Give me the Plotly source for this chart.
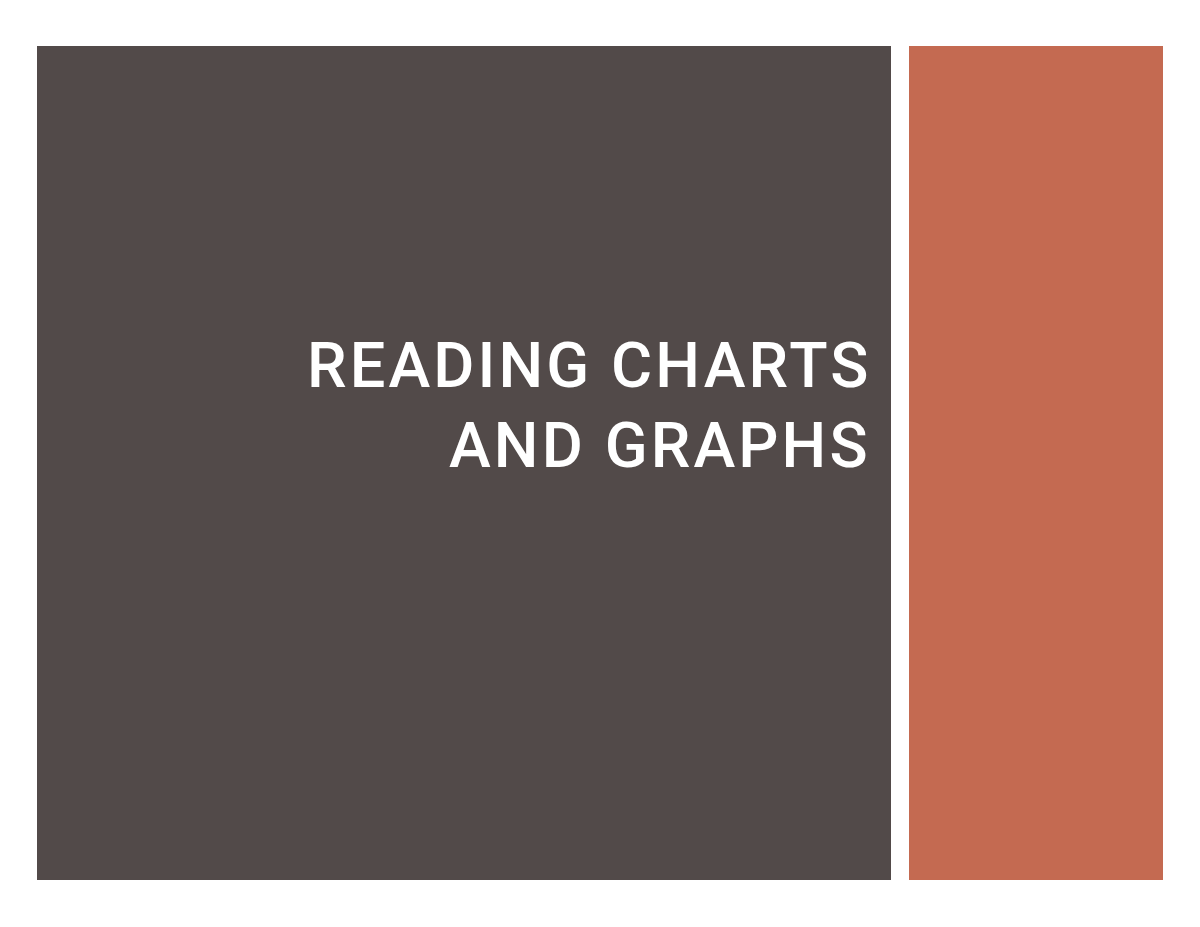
import plotly.graph_objects as go

# slide panels (page pixel coordinates, 1200 x 927 page)
panel_names = ["main", "accent"]
panel_x0 = [37, 909]
panel_x1 = [891, 1163]
panel_y0 = [46, 46]
panel_y1 = [880, 880]
panel_colors = ["#524A49", "#C46A51"]

title_lines = ["READING CHARTS", "AND GRAPHS"]
title_right = 873
title_mid = [365, 445]

W, H = 1200, 927
PAD = 8  # page body margin in the browser


fig = go.Figure()

for i in range(len(panel_names)):
    fig.add_shape(type="rect", xref="x", yref="y",
                  x0=panel_x0[i], x1=panel_x1[i], y0=panel_y0[i], y1=panel_y1[i],
                  fillcolor=panel_colors[i], line=dict(width=0), layer="below")

for line, mid in zip(title_lines, title_mid):
    fig.add_annotation(x=title_right, y=mid, xref="x", yref="y",
                       text='<span style="letter-spacing:3.1px">' + line + '</span>',
                       showarrow=False, xanchor="right", yanchor="middle",
                       font=dict(family="Roboto", size=63, color="white", weight=500))

fig.update_xaxes(range=[PAD, W], visible=False, fixedrange=True)
fig.update_yaxes(range=[H, PAD], visible=False, fixedrange=True)
fig.update_layout(width=W - PAD, height=H - PAD, margin=dict(l=0, r=0, t=0, b=0),
                  paper_bgcolor="white", plot_bgcolor="white", showlegend=False)

fig.write_html("out.html", config={"displayModeBar": False})
